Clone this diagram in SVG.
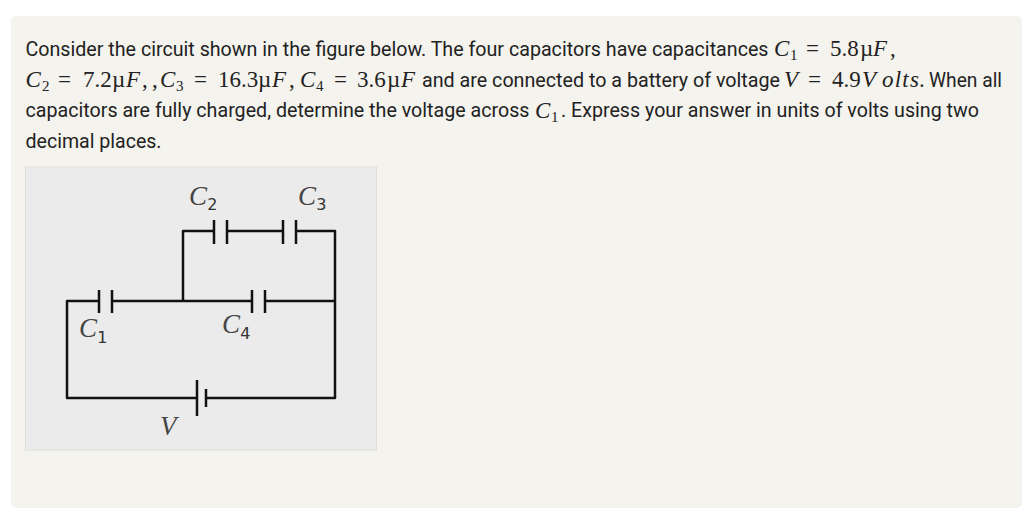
<svg xmlns="http://www.w3.org/2000/svg" width="1024" height="509" viewBox="0 0 1024 509">
<style>
.t{font-family:Roboto,"Liberation Sans",sans-serif;font-size:19.5px;fill:#222}
.m{font-family:"Liberation Serif",serif;font-size:23px;fill:#222}
.i{font-style:italic}
.s{font-size:15px}
.w{fill:none;stroke:#111;stroke-width:2.5;stroke-linejoin:round}
.l{font-family:"Liberation Serif",serif;font-size:27px;fill:#444;font-style:italic}
.l2{font-family:"DejaVu Sans",sans-serif;font-size:16px;font-style:normal;fill:#333}
</style>
<rect width="1024" height="509" fill="#fff"/>
<rect x="11" y="16" width="1011" height="492" rx="5" fill="#f5f3ee"/>
<g id="question">
<text class="t" x="25.500" y="55.500" textLength="743" lengthAdjust="spacingAndGlyphs">Consider the circuit shown in the figure below. The four capacitors have capacitances</text>
<text class="m" y="56"><tspan class="i" x="774">C</tspan><tspan class="s" x="790" y="60">1</tspan><tspan x="806" y="56">=</tspan><tspan x="830">5.8</tspan><tspan x="860">µ</tspan><tspan class="i" x="873">F</tspan><tspan x="890">,</tspan></text>
<text class="m" y="87"><tspan class="i" x="25.500">C</tspan><tspan class="s" x="42" y="91">2</tspan><tspan x="58" y="87">=</tspan><tspan x="83">7.2</tspan><tspan x="112">µ</tspan><tspan class="i" x="126">F</tspan><tspan x="142">,</tspan><tspan x="152">,</tspan><tspan class="i" x="160">C</tspan><tspan class="s" x="176" y="91">3</tspan><tspan x="194" y="87">=</tspan><tspan x="218">16.3</tspan><tspan x="258">µ</tspan><tspan class="i" x="272">F</tspan><tspan x="289">,</tspan><tspan class="i" x="300">C</tspan><tspan class="s" x="316" y="91">4</tspan><tspan x="334" y="87">=</tspan><tspan x="357">3.6</tspan><tspan x="387">µ</tspan><tspan class="i" x="401">F</tspan></text>
<text class="t" x="422" y="86.500" textLength="358" lengthAdjust="spacingAndGlyphs">and are connected to a battery of voltage</text>
<text class="m" y="87"><tspan class="i" x="784">V</tspan><tspan x="808">=</tspan><tspan x="832">4.9</tspan><tspan class="i" x="862">V</tspan><tspan class="i" x="882" letter-spacing="1.200">olts</tspan><tspan x="919">.</tspan></text>
<text class="t" x="929" y="86.500" textLength="73" lengthAdjust="spacingAndGlyphs">When all</text>
<text class="t" x="25.500" y="117" textLength="504" lengthAdjust="spacingAndGlyphs">capacitors are fully charged, determine the voltage across</text>
<text class="m" y="118"><tspan class="i" x="535">C</tspan><tspan class="s" x="551" y="122">1</tspan></text>
<text class="t" x="561" y="117" textLength="418" lengthAdjust="spacingAndGlyphs">. Express your answer in units of volts using two</text>
<text class="t" x="25.500" y="148" textLength="136" lengthAdjust="spacingAndGlyphs">decimal places.</text>
</g>
<rect id="figure" x="25.500" y="167" width="351" height="283" fill="#ebebeb" stroke="#dfdfda"/>
<g id="connectors">
<path class="w" d="M214 231H183V301M227 231H282M296 231H335V398H207M197 398H67V301H99M112 301H252M265 301H335"/>
</g>
<g id="C1"><path class="w" d="M99 290V313M112 290V313"/><text class="l" x="79" y="337">C<tspan class="l2" x="97.200" y="343">1</tspan></text></g>
<g id="C2"><path class="w" d="M214 220V244M227 220V244"/><text class="l" x="189" y="205">C<tspan class="l2" x="207.200" y="210">2</tspan></text></g>
<g id="C3"><path class="w" d="M283 220V244M296 220V244"/><text class="l" x="298" y="205">C<tspan class="l2" x="316.200" y="210">3</tspan></text></g>
<g id="C4"><path class="w" d="M252 290V313M265 290V313"/><text class="l" x="222" y="333">C<tspan class="l2" x="240.200" y="339">4</tspan></text></g>
<g id="battery"><path class="w" d="M197 380V416M206 389V407"/><text class="l" x="160" y="435">V</text></g>
</svg>
